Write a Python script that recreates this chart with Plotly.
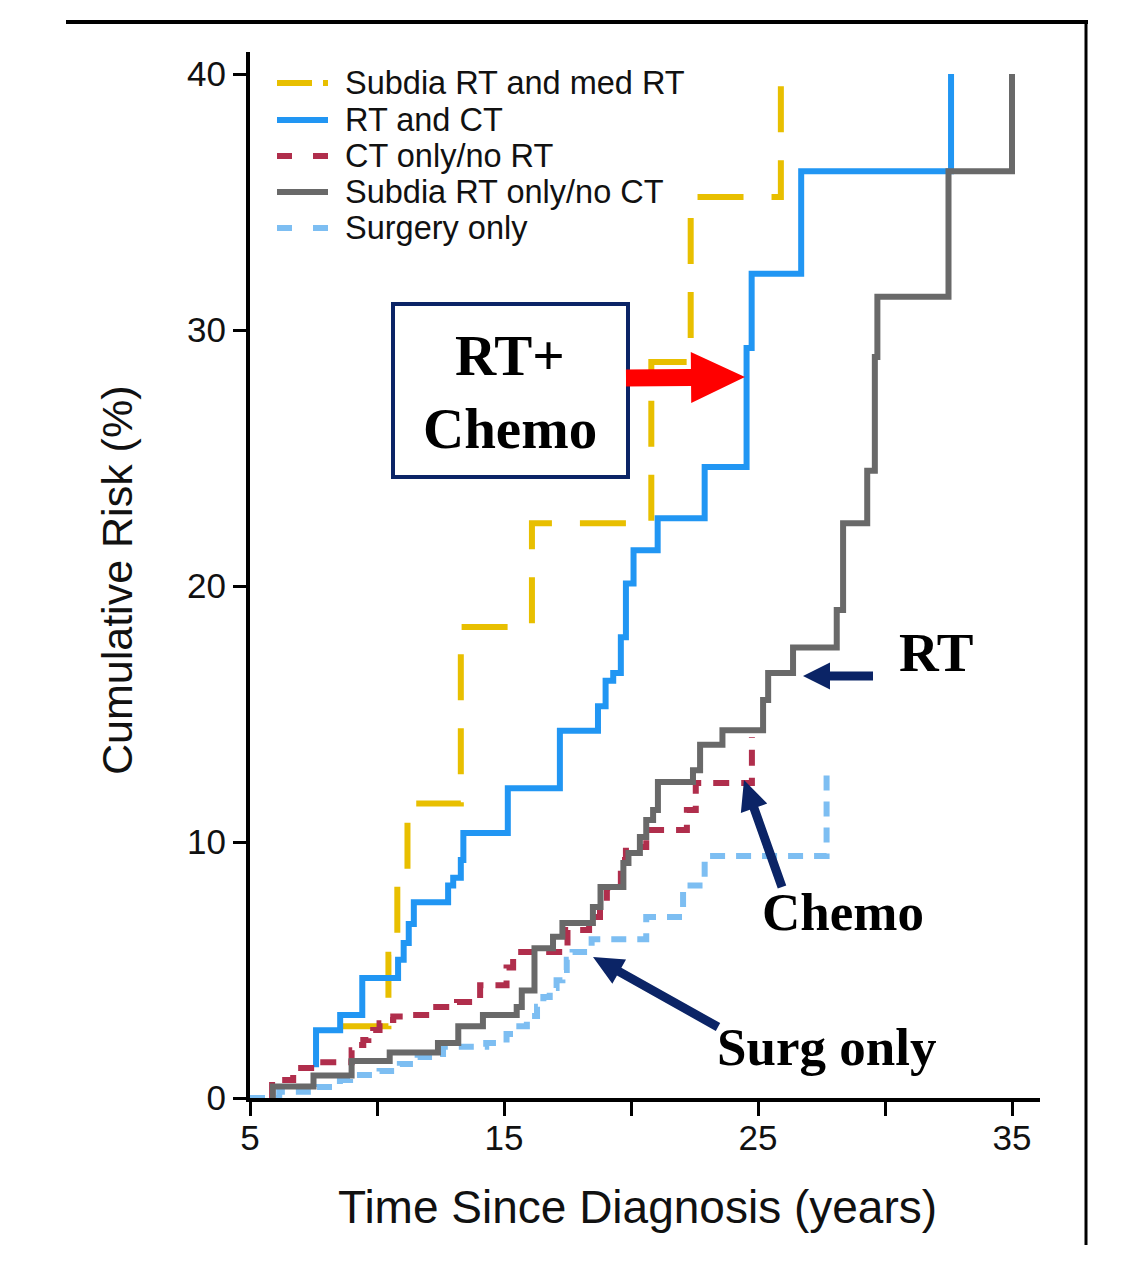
import plotly.graph_objects as go

# ---------------- data ----------------
# step curves: first point = start, then (event time, new cumulative risk)
yellow_x = [8.66, 10.45, 10.8, 11.2, 13.3, 16.1, 20.8, 22.35, 25.9]
yellow_y = [2.8, 5.6, 8.5, 11.5, 18.4, 22.45, 28.75, 35.2, 40.0]

blue_x = [7.6, 7.6, 8.55, 9.42, 10.83, 11.05, 11.25, 11.45, 12.8, 13.0, 13.3, 13.4,
          15.15, 17.2, 18.7, 19.0, 19.3, 19.6, 19.8, 20.1, 21.05, 22.9, 24.55, 24.75,
          26.7, 32.6]
blue_y = [1.2, 2.65, 3.24, 4.69, 5.4, 6.05, 6.8, 7.65, 8.3, 8.6, 9.3, 10.35,
          12.1, 14.35, 15.3, 16.3, 16.6, 18.0, 20.1, 21.4, 22.65, 24.65, 29.3, 32.2,
          36.2, 40.0]

red_x = [5.87, 5.87, 6.7, 7.65, 9.0, 9.2, 9.46, 9.66, 9.85, 10.1, 10.4, 10.64, 11.04,
         12.1, 13.15, 14.06, 15.1, 15.36, 17.5, 18.35, 18.78, 19.05, 19.6, 19.8, 20.6,
         22.2, 22.55, 24.76]
red_y = [0.0, 0.7, 1.17, 1.4, 1.87, 2.07, 2.27, 2.46, 2.66, 2.92, 3.05, 3.18, 3.24,
         3.55, 3.75, 4.4, 5.1, 5.7, 6.56, 7.07, 7.6, 8.2, 9.3, 9.8, 10.47,
         11.25, 12.3, 14.1]

gray_x = [5.9, 5.9, 7.5, 9.0, 10.5, 12.4, 13.2, 14.17, 15.5, 15.7, 16.2, 16.93, 17.3,
          18.5, 18.8, 19.7, 19.9, 20.35, 20.6, 20.87, 21.06, 22.44, 22.72, 23.6, 25.2,
          25.4, 26.38, 28.1, 28.35, 29.3, 29.6, 29.7, 32.5, 35.0]
gray_y = [0.0, 0.45, 0.88, 1.45, 1.78, 2.15, 2.8, 3.24, 3.55, 4.2, 5.85, 6.3, 6.84,
          7.46, 8.24, 9.18, 9.57, 10.2, 10.86, 11.25, 12.34, 12.8, 13.8, 14.37, 15.55,
          16.6, 17.6, 19.06, 22.45, 24.5, 28.95, 31.3, 36.2, 40.0]

lblue_x = [5.0, 6.15, 7.64, 8.54, 8.94, 10.1, 10.9, 11.6, 12.6, 14.3, 15.1, 15.36, 15.9,
           16.3, 16.55, 16.8, 17.07, 17.3, 17.47, 17.7, 18.45, 20.6, 22.05, 22.9, 27.7]
lblue_y = [0.0, 0.24, 0.43, 0.7, 0.9, 1.05, 1.33, 1.6, 2.0, 2.15, 2.5, 2.8, 3.2,
           3.56, 3.95, 4.3, 4.6, 5.0, 5.4, 5.7, 6.2, 7.07, 8.3, 9.45, 12.8]

series_names = ["Subdia RT and med RT", "RT and CT", "CT only/no RT",
                "Subdia RT only/no CT", "Surgery only"]
x_tickvals = [5, 10, 15, 20, 25, 30, 35]
x_ticktext = ["5", "", "15", "", "25", "", "35"]
y_tickvals = [0, 10, 20, 30, 40]

# ---------------- styling ----------------
C_YEL = "#E8BF00"
C_BLU = "#2196F3"
C_RED = "#B02E4C"
C_GRY = "#696969"
C_LBL = "#7DBEF2"
NAVY = "#0B2466"
SANS = "Liberation Sans, Arial, sans-serif"
SERIF = "Liberation Serif, Times New Roman, serif"

W, H = 1144, 1276
L, R, T, B = 250, 1040, 52, 1098  # plot area in pixels


def px(p):
    return (p - L) / (R - L)


def py(p):
    return (B - p) / (B - T)


fig = go.Figure()
styles = [
    (yellow_x, yellow_y, series_names[0], C_YEL, "46px,28px"),
    (blue_x, blue_y, series_names[1], C_BLU, "solid"),
    (lblue_x, lblue_y, series_names[4], C_LBL, "15px,11px"),
    (red_x, red_y, series_names[2], C_RED, "16px,12px"),
    (gray_x, gray_y, series_names[3], C_GRY, "solid"),
]
for xs, ys, nm, col, dash in styles:
    fig.add_trace(go.Scatter(x=xs, y=ys, name=nm, mode="lines", line_shape="hv",
                             line=dict(color=col, width=6, dash=dash),
                             showlegend=False, hoverinfo="skip"))

shapes = []
annotations = []

# manual legend
leg_rows = [83, 120, 156, 192, 228]
leg_specs = [
    (series_names[0], C_YEL, [(277, 312), (323, 328)]),
    (series_names[1], C_BLU, [(277, 328)]),
    (series_names[2], C_RED, [(277, 292), (313, 328)]),
    (series_names[3], C_GRY, [(277, 328)]),
    (series_names[4], C_LBL, [(277, 292), (313, 328)]),
]
for yrow, (nm, col, segs) in zip(leg_rows, leg_specs):
    for a, b in segs:
        shapes.append(dict(type="line", xref="paper", yref="paper",
                           x0=px(a), x1=px(b), y0=py(yrow), y1=py(yrow),
                           line=dict(color=col, width=6)))
    annotations.append(dict(xref="paper", yref="paper", x=px(343), y=py(yrow),
                            xanchor="left", yanchor="middle", text=nm, showarrow=False,
                            font=dict(family=SANS, size=32.5, color="#111111")))

# outer frame lines (top & right)
shapes.append(dict(type="line", xref="paper", yref="paper", x0=px(66), x1=px(1088),
                   y0=py(22), y1=py(22), line=dict(color="black", width=4)))
shapes.append(dict(type="line", xref="paper", yref="paper", x0=px(1086), x1=px(1086),
                   y0=py(20), y1=py(1245), line=dict(color="black", width=3)))


def arrow(x0, y0, x1, y1, shaft, hlen, hw, color):
    import math
    dx, dy = x1 - x0, y1 - y0
    n = math.hypot(dx, dy)
    ux, uy = dx / n, dy / n
    nx, ny = -uy, ux
    bx, by = x1 - ux * hlen, y1 - uy * hlen
    s = shaft / 2
    pts = [(x0 + nx * s, y0 + ny * s), (bx + nx * s, by + ny * s),
           (bx + nx * hw / 2, by + ny * hw / 2), (x1, y1),
           (bx - nx * hw / 2, by - ny * hw / 2), (bx - nx * s, by - ny * s),
           (x0 - nx * s, y0 - ny * s)]
    path = "M " + " L ".join(f"{px(a):.5f},{py(b):.5f}" for a, b in pts) + " Z"
    return dict(type="path", xref="paper", yref="paper", path=path,
                fillcolor=color, line=dict(width=0), layer="above")


# RT+Chemo box
shapes.append(dict(type="rect", xref="paper", yref="paper", x0=px(393), x1=px(628),
                   y0=py(304), y1=py(477), line=dict(color=NAVY, width=4),
                   fillcolor="white", layer="above"))
shapes.append(arrow(626, 378, 745, 377, 17, 54, 51, "#FF0000"))
shapes.append(arrow(873, 676, 803, 676, 9, 27, 27, NAVY))
shapes.append(arrow(782, 887, 744, 780, 9, 30, 28, NAVY))
shapes.append(arrow(718, 1027, 593, 957, 9, 30, 28, NAVY))

bold_txt = [("RT+", 510, 355, 57), ("Chemo", 510, 428, 57), ("RT", 936, 652, 55),
            ("Chemo", 843, 912, 53), ("Surg only", 826, 1047, 53)]
for t, xx, yy, sz in bold_txt:
    annotations.append(dict(xref="paper", yref="paper", x=px(xx), y=py(yy), text=t,
                            showarrow=False, xanchor="center", yanchor="middle",
                            font=dict(family=SERIF, size=sz, color="black",
                                      weight="bold")))

# axis titles
annotations.append(dict(xref="paper", yref="paper", x=px(117), y=py(581),
                        text="Cumulative Risk (%)", textangle=-90, showarrow=False,
                        xanchor="center", yanchor="middle",
                        font=dict(family=SANS, size=43, color="#111111")))
annotations.append(dict(xref="paper", yref="paper", x=px(637), y=py(1207),
                        text="Time Since Diagnosis (years)", showarrow=False,
                        xanchor="center", yanchor="middle",
                        font=dict(family=SANS, size=46, color="#111111")))

fig.update_layout(
    width=W, height=H,
    margin=dict(l=L, r=W - R, t=T, b=H - B, pad=0),
    paper_bgcolor="white", plot_bgcolor="white",
    shapes=shapes, annotations=annotations,
    xaxis=dict(range=[5.0, 5 + (R - L) / 25.4], showgrid=False, zeroline=False,
               showline=True, linecolor="black", linewidth=4,
               ticks="outside", ticklen=14, tickwidth=3, tickcolor="black",
               tickvals=x_tickvals, ticktext=x_ticktext, ticklabelstandoff=-8,
               tickfont=dict(family=SANS, size=35, color="#111111")),
    yaxis=dict(range=[0, (B - T) / 25.6], showgrid=False, zeroline=False,
               showline=True, linecolor="black", linewidth=4,
               ticks="outside", ticklen=13, tickwidth=3, tickcolor="black",
               tickvals=y_tickvals,
               tickfont=dict(family=SANS, size=35, color="#111111")),
)

fig.write_html("out.html")
